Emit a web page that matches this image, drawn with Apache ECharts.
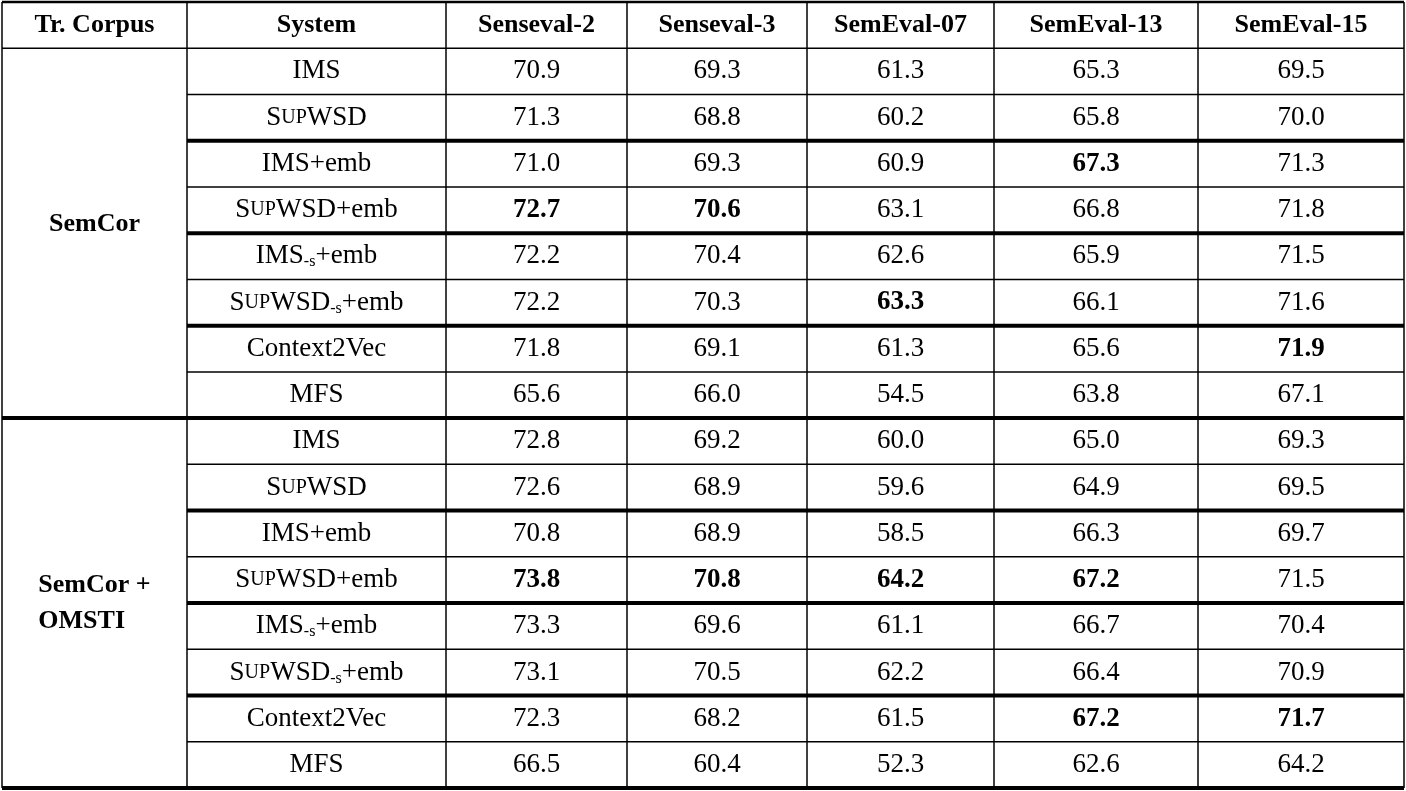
<!DOCTYPE html>
<html>
<head>
<meta charset="utf-8">
<script src="https://cdn.jsdelivr.net/npm/echarts@6/dist/echarts.min.js"></script>
<style>html,body{margin:0;padding:0;background:#fff}#chart{width:1406px;height:791px}</style>
</head>
<body>
<div id="chart"></div>
<script>
// table content
var headers = ['Tr. Corpus', 'System', 'Senseval-2', 'Senseval-3', 'SemEval-07', 'SemEval-13', 'SemEval-15'];
var corpora = ['SemCor', 'SemCor +\nOMSTI'];
var systems = ['IMS', 'SUPWSD', 'IMS+emb', 'SUPWSD+emb', 'IMS-s+emb', 'SUPWSD-s+emb', 'Context2Vec', 'MFS'];
var semcorScores = [
  [70.9, 69.3, 61.3, 65.3, 69.5],
  [71.3, 68.8, 60.2, 65.8, 70.0],
  [71.0, 69.3, 60.9, 67.3, 71.3],
  [72.7, 70.6, 63.1, 66.8, 71.8],
  [72.2, 70.4, 62.6, 65.9, 71.5],
  [72.2, 70.3, 63.3, 66.1, 71.6],
  [71.8, 69.1, 61.3, 65.6, 71.9],
  [65.6, 66.0, 54.5, 63.8, 67.1]
];
var omstiScores = [
  [72.8, 69.2, 60.0, 65.0, 69.3],
  [72.6, 68.9, 59.6, 64.9, 69.5],
  [70.8, 68.9, 58.5, 66.3, 69.7],
  [73.8, 70.8, 64.2, 67.2, 71.5],
  [73.3, 69.6, 61.1, 66.7, 70.4],
  [73.1, 70.5, 62.2, 66.4, 70.9],
  [72.3, 68.2, 61.5, 67.2, 71.7],
  [66.5, 60.4, 52.3, 62.6, 64.2]
];
// [row, col] of best results (bold)
var semcorBold = [[3, 0], [3, 1], [2, 3], [5, 2], [6, 4]];
var omstiBold = [[3, 0], [3, 1], [3, 2], [3, 3], [6, 3], [6, 4]];

// layout
var colEdges = [2, 187, 446, 627, 807, 994, 1198, 1404];
var nRows = 17;
var FONT = '"Liberation Serif", "DejaVu Serif", serif';

function sysText(s) {
  if (s.indexOf('SUPWSD') === 0) {
    var rest = s.slice(6);
    var out = '{n|S}{sc|UP}{n|WSD}';
    if (rest.indexOf('-s') === 0) { out += '{sub|-s}'; rest = rest.slice(2); }
    return out + (rest ? '{n|' + rest + '}' : '');
  }
  if (s.indexOf('IMS-s') === 0) return '{n|IMS}{sub|-s}{n|' + s.slice(5) + '}';
  return '{n|' + s + '}';
}

var cells = [];
headers.forEach(function (h, c) { cells.push([c, 0, '{h|' + h + '}']); });
[semcorScores, omstiScores].forEach(function (scores, g) {
  var bold = g === 0 ? semcorBold : omstiBold;
  var base = 1 + g * 8;
  systems.forEach(function (s, r) {
    cells.push([1, base + r, sysText(s)]);
    scores[r].forEach(function (v, c) {
      var isB = bold.some(function (b) { return b[0] === r && b[1] === c; });
      cells.push([c + 2, base + r, (isB ? '{b|' : '{n|') + v.toFixed(1) + '}']);
    });
  });
});
cells.push([0, 4.3, '{h|' + corpora[0] + '}']);
cells.push([0, 12.5, corpora[1].split('\n').map(function (t) { return '{h|' + t + '}'; }).join('\n')]);

// horizontal rules: [row boundary, start col, width]
var hLines = [[0, 0, 2.5], [1, 0, 1.5], [9, 0, 4], [17, 0, 4]];
[1, 9].forEach(function (base) {
  for (var k = 1; k < 8; k++) hLines.push([base + k, 1, k % 2 === 0 ? 4 : 1.5]);
});

var rich = {
  n: { fontFamily: FONT, fontSize: 27, color: '#111' },
  b: { fontFamily: FONT, fontSize: 27, fontWeight: 'bold', color: '#111' },
  h: { fontFamily: FONT, fontSize: 26, fontWeight: 'bold', color: '#111', lineHeight: 36, align: 'left' },
  sc: { fontFamily: FONT, fontSize: 20, color: '#111' },
  sub: { fontFamily: FONT, fontSize: 16, color: '#111', padding: [12, 0, 0, 0] }
};

var myChart = echarts.init(document.getElementById('chart'));
var option = {
  animation: false,
  grid: { left: 0, right: 0, top: 2, bottom: 3 },
  xAxis: { type: 'value', min: 0, max: 1406, show: false },
  yAxis: { type: 'value', min: 0, max: nRows, inverse: true, show: false },
  series: [
    {
      type: 'custom',
      data: cells,
      renderItem: function (params, api) {
        var d = cells[params.dataIndex];
        var x = (colEdges[d[0]] + colEdges[d[0] + 1]) / 2;
        var p = api.coord([x, d[1] + 0.5]);
        return {
          type: 'text',
          style: { x: p[0], y: p[1], text: d[2], rich: rich, align: 'center', verticalAlign: 'middle' }
        };
      }
    },
    {
      type: 'custom',
      data: hLines,
      renderItem: function (params, api) {
        var d = hLines[params.dataIndex];
        var a = api.coord([colEdges[d[1]], d[0]]);
        var b = api.coord([colEdges[colEdges.length - 1], d[0]]);
        return { type: 'line', shape: { x1: a[0], y1: a[1], x2: b[0], y2: b[1] }, style: { stroke: '#000', lineWidth: d[2] } };
      }
    },
    {
      type: 'custom',
      data: colEdges,
      renderItem: function (params, api) {
        var a = api.coord([colEdges[params.dataIndex], 0]);
        var b = api.coord([colEdges[params.dataIndex], nRows]);
        return { type: 'line', shape: { x1: a[0], y1: a[1], x2: b[0], y2: b[1] }, style: { stroke: '#000', lineWidth: 1.5 } };
      }
    }
  ]
};
myChart.setOption(option);
window.addEventListener('resize', function () { myChart.resize(); });
</script>
</body>
</html>
